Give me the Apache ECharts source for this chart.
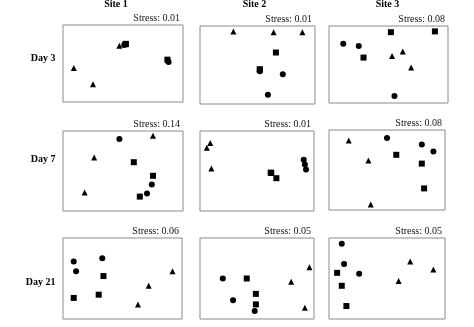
<!DOCTYPE html>
<html>
<head>
<meta charset="utf-8">
<script src="https://cdn.jsdelivr.net/npm/echarts@6/dist/echarts.min.js"></script>
<style>html,body{margin:0;padding:0;background:#fff;}#c{width:474px;height:327px;}</style>
</head>
<body>
<div id="c"></div>
<script>
// Column / row labels
const sites = ['Site 1', 'Site 2', 'Site 3'];
const days = ['Day 3', 'Day 7', 'Day 21'];
// Stress values per panel (row-major: Day 3, Day 7, Day 21 × Site 1..3)
const stress = ['0.01', '0.01', '0.08', '0.14', '0.01', '0.08', '0.06', '0.05', '0.05'];

// NMDS ordination points per panel (relative units 0–100), row-major
const circlePts = [
  [[51, 74], [88, 52], [87.5, 53]],
  [[52, 42], [72, 38], [59, 12]],
  [[12, 77], [25, 74], [55, 9]],
  [[47, 90], [74, 33], [70, 22]],
  [[91, 64], [92, 58], [93, 52]],
  [[50, 90], [80, 82], [90, 73]],
  [[9, 71], [33, 75], [11, 59]],
  [[20, 50], [29, 23], [48, 10]],
  [[11, 93], [13, 68], [26, 56]]
];
const squarePts = [
  [[52, 75], [87, 55], [52.5, 75.5]],
  [[66, 66], [52, 44], [52, 44.5]],
  [[29, 59], [52, 92], [89, 93]],
  [[59, 61], [75, 44], [64, 18]],
  [[62, 48], [67, 41], [62.5, 47.5]],
  [[58, 69], [80, 58], [82, 27]],
  [[34, 53], [9, 26], [30, 30]],
  [[41, 50], [49, 31], [49, 18]],
  [[7, 57], [11, 41], [15, 16]]
];
const trianglePts = [
  [[47, 73], [9, 44], [25, 23]],
  [[29, 93], [64, 92], [89, 92]],
  [[53, 61], [62, 67], [69, 46]],
  [[75, 94], [26, 67], [18, 23]],
  [[9, 85], [6, 79], [10, 53]],
  [[17, 87], [34, 62], [36, 7]],
  [[92, 59], [72, 41], [63, 18]],
  [[96, 64], [80, 46], [92, 14]],
  [[70, 71], [90, 61], [60, 47]]
];

// Layout of the 3x3 panel boxes (left, top, width, height)
const boxes = [
  [63, 25, 120, 77], [200, 26, 115, 78], [329, 26, 119, 77],
  [63, 131, 120, 80], [200, 131, 114, 80], [329, 130, 116, 80],
  [63, 238, 119, 81], [200, 238, 114, 81], [329, 238, 116, 81]
];
const siteX = [116, 254.5, 387.5];
const dayY = [58, 159, 282.5];

const grid = [], xAxis = [], yAxis = [], series = [], graphic = [];
const FONT = '"Liberation Serif", "DejaVu Serif", serif';

boxes.forEach((b, i) => {
  grid.push({left: b[0], top: b[1], width: b[2], height: b[3], show: true,
    borderColor: '#8a8a8a', borderWidth: 1, backgroundColor: '#fff'});
  xAxis.push({gridIndex: i, type: 'value', min: 0, max: 100, show: false});
  yAxis.push({gridIndex: i, type: 'value', min: 0, max: 100, show: false});
  const common = {xAxisIndex: i, yAxisIndex: i, type: 'scatter', silent: true,
    itemStyle: {color: '#000', opacity: 1}, animation: false};
  series.push(Object.assign({}, common, {data: circlePts[i], symbol: 'circle', symbolSize: 6}));
  series.push(Object.assign({}, common, {data: squarePts[i], symbol: 'rect', symbolSize: 6}));
  series.push(Object.assign({}, common, {data: trianglePts[i], symbol: 'triangle', symbolSize: 6}));
  graphic.push({type: 'text',
    x: b[0] + b[2] - 3, y: b[1] - 6.5,
    style: {text: 'Stress: ' + stress[i], font: '10px ' + FONT, fill: '#111',
      textAlign: 'right', textVerticalAlign: 'middle'}});
});

sites.forEach((s, j) => {
  graphic.push({type: 'text', x: siteX[j], y: 4.5,
    style: {text: s, font: 'bold 10px ' + FONT, fill: '#000',
      textAlign: 'center', textVerticalAlign: 'middle'}});
});
days.forEach((d, r) => {
  graphic.push({type: 'text', x: 55.5, y: dayY[r],
    style: {text: d, font: 'bold 10px ' + FONT, fill: '#000',
      textAlign: 'right', textVerticalAlign: 'middle'}});
});

const chart = echarts.init(document.getElementById('c'), null, {renderer: 'canvas'});
chart.setOption({
  animation: false,
  backgroundColor: '#fff',
  grid: grid, xAxis: xAxis, yAxis: yAxis, series: series, graphic: graphic
});
</script>
</body>
</html>
